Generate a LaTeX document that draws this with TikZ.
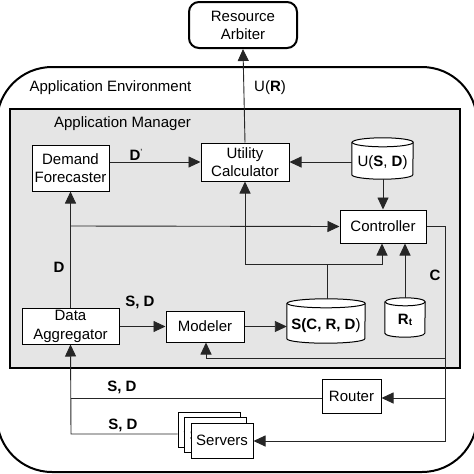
\documentclass[tikz,border=0pt]{standalone}
\usepackage{fontspec}
\setmainfont{Liberation Sans}
\usetikzlibrary{arrows.meta}
\newcommand\drawcyl[3]{%
  \draw[cylline] ([yshift=-#3]#1.north west) -- ([yshift=#3]#1.south west)
    arc[start angle=180,end angle=360,x radius=#2,y radius=#3]
    -- ([yshift=-#3]#1.north east)
    arc[start angle=0,end angle=180,x radius=#2,y radius=#3] -- cycle;
  \draw[cylline] ([yshift=-#3]#1.north east)
    arc[start angle=0,end angle=-180,x radius=#2,y radius=#3];}
\begin{document}
\begin{tikzpicture}[x=1pt,y=-1pt,
  every node/.style={font=\fontsize{15}{18}\selectfont, inner sep=0pt},
  box/.style={draw, fill=white, line width=1pt, align=center},
  cylline/.style={draw, fill=white, line width=1pt},
  cylarea/.style={shape=rectangle},
  lbl/.style={align=center},
  conn/.style={line width=0.9pt, draw=black!85},
  arr/.style={conn, -{Triangle[length=12pt,width=11pt]}}]
\useasboundingbox (0,0) rectangle (474,474);
% environment and manager
\draw[line width=2pt, rounded corners=55pt] (-3,67) rectangle (477,472);
\draw[line width=2.5pt, fill=gray!20] (10,109) rectangle (460,368);
\node[lbl] (envlbl) at (110.5,88) {Application Environment};
\node[lbl] (mgrlbl) at (122.5,124) {Application Manager};
% resource arbiter
\node[draw, fill=white, line width=2pt, rounded corners=10pt, align=center,
  minimum width=108pt, minimum height=46pt] (ra) at (243,25) {Resource\\Arbiter};
% boxes
\node[box, minimum width=77pt, minimum height=46pt] (df) at (70.5,168) {Demand\\Forecaster};
\node[box, minimum width=88pt, minimum height=38pt] (uc) at (245,162) {Utility\\Calculator};
\node[box, minimum width=86pt, minimum height=33pt] (ctrl) at (383,226.5) {Controller};
\node[box, minimum width=97pt, minimum height=36pt, font=\fontsize{15}{19}\selectfont] (da) at (70.5,326) {Data\\Aggregator};
\node[box, minimum width=78pt, minimum height=31pt] (mod) at (205,326.5) {Modeler};
\node[box, minimum width=59pt, minimum height=34pt] (rt) at (351.5,396) {Router};
\node[box, minimum width=62pt, minimum height=35pt] (srv3) at (209,429.5) {Servers};
\node[box, minimum width=62pt, minimum height=35pt] (srv2) at (215.5,435) {Servers};
\node[box, minimum width=62pt, minimum height=35pt] (srv) at (222,440.5) {Servers};
% cylinders
\node[cylarea, minimum width=61pt, minimum height=41pt] (usd) at (382.5,158.5) {};
\drawcyl{usd}{30.5pt}{4.5pt}
\node[lbl] (usdt) at (382.5,163) {U(\textbf{S}, \textbf{D})};
\node[cylarea, minimum width=78pt, minimum height=44pt] (scrd) at (326,321) {};
\drawcyl{scrd}{39pt}{4.5pt}
\node[lbl] (scrdt) at (326,326) {\textbf{S(C, R, D})};
\node[cylarea, minimum width=40pt, minimum height=39pt] (rtc) at (405,317.5) {};
\drawcyl{rtc}{20pt}{4pt}
\node[lbl] (rtt) at (405,320) {\textbf{R}\raisebox{-1pt}{\fontsize{10}{10}\selectfont\textbf{t}}};
% labels
\node[lbl] (ur) at (270,88) {U(\textbf{R})};
\node[lbl] (dp) at (136,155) {\textbf{D}\raisebox{5pt}{\fontsize{9}{9}\selectfont '}};
\node[lbl] (dl) at (59,267) {\textbf{D}};
\node[lbl] (cl) at (435,275) {\textbf{C}};
\node[lbl] (sd1) at (140,302) {\textbf{S, D}};
\node[lbl] (sd2) at (122,387) {\textbf{S, D}};
\node[lbl] (sd3) at (123,425) {\textbf{S, D}};
% coordinates
\coordinate (j1) at (71,226);
\coordinate (j2) at (327,264);
\coordinate (j3) at (245,264);
\coordinate (j4) at (382,264);
\coordinate (c1) at (445,226.5);
\coordinate (c2) at (445,441);
\coordinate (c3) at (445,358);
\coordinate (c4) at (206,358);
\coordinate (c5) at (445,398);
\coordinate (l1) at (71,398);
\coordinate (l2) at (71,434);
% connectors
\draw[arr] (uc.north) -- (ra.south);
\draw[arr] (df.east |- uc) -- (uc.west);
\draw[arr] (usd.west |- uc) -- (uc.east);
\draw[arr] (usd.south -| ctrl.north) -- (ctrl.north);
\draw[arr] (da.north) -- (df.south);
\draw[arr] (j1) -- (ctrl.west);
\draw[conn] (scrd.north -| j2) -- (j2);
\draw[arr] (j4) -- (j3) -- (uc.south);
\draw[arr] (j3) -- (j4) -- (j4 |- ctrl.south);
\draw[arr] (rtc.north) -- (rtc.north |- ctrl.south);
\draw[arr] (ctrl.east) -- (c1) -- (c2) -- (srv.east |- c2);
\draw[arr] (c3) -- (c4) -- (mod.south -| c4);
\draw[arr] (c5) -- (rt.east |- c5);
\draw[conn] (rt.west |- c5) -- (l1);
\draw[arr] (srv3.west |- l2) -- (l2) -- (da.south);
\draw[arr] (da.east |- mod) -- (mod.west);
\draw[arr] (mod.east) -- (scrd.west |- mod);
\end{tikzpicture}
\end{document}
